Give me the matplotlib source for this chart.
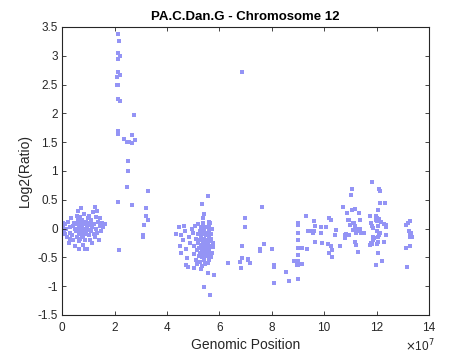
import matplotlib.pyplot as plt
import numpy as np

plt.rcParams['font.family'] = ['Liberation Sans', 'DejaVu Sans']

# genomic position in Mb, log2 ratio
pos_mb = [
    # cluster near 0-17 Mb
    0.5, 0.8, 1.0, 1.2, 1.5, 2.0, 2.2, 2.5, 3.0, 3.2, 3.5, 3.8, 4.0, 4.2, 4.5, 4.8,
    5.0, 5.2, 5.5, 5.6, 5.8, 6.0, 6.1, 6.2, 6.3, 6.4, 6.5, 6.6, 6.7, 6.8, 6.9, 7.0,
    7.1, 7.2, 7.3, 7.4, 7.5, 7.6, 7.7, 7.8, 7.9, 8.0, 8.1, 8.3, 8.5, 8.6, 8.8, 9.0,
    9.2, 9.4, 9.5, 9.7, 9.8, 10.0, 10.2, 10.4, 10.6, 10.8, 11.0, 11.2, 11.4, 11.6,
    11.8, 12.0, 12.2, 12.5, 12.8, 13.0, 13.2, 13.5, 13.8, 14.0, 14.3, 14.6, 15.0,
    15.3, 15.8, 16.2, 6.6, 8.9, 0.2, 0.3, 3.0, 12.6,
    # amplified region ~21-33 Mb
    21.4, 21.7, 21.2, 22.1, 21.2, 21.2, 22.1, 20.8, 21.0, 21.4, 21.4, 22.1, 27.5,
    21.3, 21.3, 23.8, 24.7, 25.6, 26.8, 27.9, 26.6, 25.1, 25.1, 24.8, 32.6, 21.3,
    26.5, 31.9, 31.9, 32.6, 31.2, 31.0, 31.0, 21.6,
    # cluster ~43-58 Mb
    43.6, 44.8, 46.5, 47.0, 44.9, 45.3, 47.3, 47.8, 48.2, 47.2, 48.5, 48.9, 46.0, 45.5,
    49.5, 50.0, 50.2, 50.5, 50.8, 51.0, 51.2, 51.4, 51.5, 51.7, 51.9, 52.0, 52.2, 52.3,
    52.5, 52.6, 52.7, 52.8, 52.9, 53.0, 53.1, 53.2, 53.3, 53.4, 53.5, 53.6, 53.7, 53.8,
    53.9, 54.0, 54.1, 54.2, 54.3, 54.4, 54.5, 54.6, 54.7, 54.8, 55.0, 55.1, 55.2, 55.3,
    55.4, 55.5, 55.6,
    56.2, 56.2, 56.2, 56.2, 56.2, 56.2, 56.2, 56.2, 56.2, 56.2, 56.2, 56.2, 56.2,
    57.0, 57.5, 57.6, 57.2, 56.8, 57.8, 55.8, 54.3, 56.5, 55.8, 53.3, 54.3, 53.7, 52.9,
    50.5, 56.6, 57.1, 56.9,
    # sparse 60-92 Mb
    63.2, 67.8, 68.8, 68.2, 71.1, 71.8, 68.8, 69.8, 69.8, 68.8, 76.2, 77.2, 75.6, 75.6,
    80.0, 81.0, 81.0, 81.0, 85.6, 86.4, 90.0, 90.0, 90.0, 90.0, 90.0, 90.0, 90.0, 90.0,
    90.0, 91.5, 91.5, 88.4, 89.6, 71.1,
    # 93-116 Mb
    93.0, 96.2, 96.6, 94.0, 95.3, 95.7, 96.2, 98.9, 100.8, 98.9, 102.0, 102.7, 104.6,
    104.2, 107.1, 108.7, 109.0, 109.6, 110.6, 111.8, 110.8, 110.2, 113.2, 113.7, 110.9,
    111.5, 109.9, 111.8, 112.5, 113.5, 113.1, 110.9, 112.2, 108.5, 109.4, 107.9, 114.2,
    115.1, 107.8, 111.8, 112.2, 106.2, 113.1, 101.6, 102.5, 102.9, 102.0, 102.9, 96.6,
    99.1, 93.6,
    # ~117-124 Mb
    118.2, 121.0, 121.2, 121.5, 123.4, 120.6, 117.6, 119.8, 120.3, 120.8, 119.6, 120.1,
    120.9, 121.6, 122.9, 123.6, 123.7, 117.7, 118.3, 118.6, 120.4, 120.3, 118.6, 118.6,
    119.0, 117.8, 118.3, 117.4, 120.4, 120.8, 121.2, 120.2, 120.6, 122.7, 123.7, 120.4,
    122.1, 119.6,
    # ~131-134 Mb
    131.3, 131.9, 132.6, 132.2, 132.8, 133.4, 132.8, 133.2, 131.3, 132.8, 131.6,
]

log2_ratio = [
    0.05, -0.05, 0.08, -0.10, 0.00, -0.15, 0.12, -0.25, 0.02, -0.08, 0.18, -0.12, 0.05,
    -0.20, 0.10, -0.30, 0.00, -0.05, 0.22, -0.15, 0.08, -0.02, 0.30, 0.15, -0.10, 0.05,
    -0.22, 0.12, 0.00, -0.05, 0.20, -0.18, 0.10, 0.02, -0.08, 0.35, 0.15, -0.12, 0.05,
    -0.28, 0.00, 0.10, -0.15, 0.25, -0.05, 0.08, -0.20, 0.12, -0.10, 0.02, -0.35, 0.18,
    -0.02, 0.06, -0.12, 0.22, -0.20, 0.10, -0.05, 0.15, -0.25, 0.02, 0.28, -0.10, 0.08,
    -0.15, 0.20, 0.00, 0.30, -0.08, 0.12, -0.20, 0.05, 0.18, -0.05, 0.10, 0.02, 0.08,
    -0.35, -0.36, 0.10, -0.02, -0.18, 0.38,
    3.38, 3.26, 3.04, 3.00, 2.95, 2.71, 2.67, 2.63, 2.50, 2.49, 2.25, 2.22, 1.98,
    1.69, 1.64, 1.55, 1.50, 1.50, 1.62, 1.54, 1.49, 1.17, 1.00, 0.72, 0.66, 0.46,
    0.41, 0.36, 0.22, 0.15, 0.06, -0.11, -0.15, -0.37,
    -0.09, 0.03, 0.05, -0.05, -0.31, -0.43, -0.63, -0.52, -0.66, -0.35, -0.15, -0.25,
    -0.20, -0.12,
    0.00, -0.08, -0.30, -0.45, 0.05, -0.18, -0.55, -0.38, -0.62, -0.10, -0.25, 0.08,
    -0.48, -0.33, -0.05, -0.20, -0.58, -0.42, 0.02, -0.28, -0.15, -0.65, -0.36, -0.50,
    -0.10, -0.24, 0.10, -0.40, -0.30, -0.55, -0.18, -0.45, -0.05, -0.35, -0.62, -0.25,
    0.03, -0.12, -0.48, -0.30, -0.20, -0.40, -0.08, -0.60, -0.28,
    0.12, 0.08, 0.04, -0.01, -0.06, -0.12, -0.17, -0.22, -0.30, -0.35, -0.42, -0.47,
    -0.55,
    -0.18, -0.25, -0.32, -0.42, -0.50, -0.80, -0.78, -1.02, -1.16, 0.57, 0.42, 0.25,
    0.18, -0.70, -0.68, 0.10, 0.00, -0.10,
    -0.60, -0.59, -0.52, -0.69, -0.55, -0.60, -0.30, 0.18, 0.03, 2.71, 0.37, -0.27,
    -0.36, -0.39, -0.35, -0.64, -0.67, -0.95, -0.75, -0.92, 0.09, 0.06, -0.08, -0.20,
    -0.34, -0.46, -0.57, -0.63, -0.88, -0.34, -0.61, -0.57, -0.63, -0.53,
    0.22, 0.13, 0.05, -0.04, -0.04, -0.07, -0.04, 0.02, 0.02, -0.08, 0.18, 0.15, -0.02,
    -0.11, 0.38, 0.27, 0.15, 0.15, 0.32, 0.34, 0.68, 0.58, 0.27, 0.15, 0.09, 0.09, 0.06,
    0.05, -0.01, -0.01, -0.04, -0.02, -0.07, -0.09, -0.11, -0.11, -0.07, -0.07, -0.17,
    -0.23, -0.28, -0.31, -0.41, -0.27, -0.31, -0.37, -0.43, -0.50, -0.23, -0.25, -0.36,
    0.80, 0.68, 0.66, 0.44, 0.44, 0.32, 0.22, 0.22, 0.19, 0.16, 0.14, 0.13, 0.14, 0.12,
    0.07, 0.06, 0.02, 0.09, 0.05, 0.01, 0.05, -0.05, -0.15, -0.20, -0.16, -0.25, -0.27,
    -0.28, -0.15, -0.12, -0.07, -0.27, -0.23, -0.23, -0.12, -0.43, -0.57, -0.64,
    0.06, 0.10, 0.13, -0.05, -0.08, -0.14, -0.15, -0.07, -0.34, -0.31, -0.66,
]

x = np.array(pos_mb) * 1e6
y = np.array(log2_ratio)

fig = plt.figure(figsize=(4.74, 3.55), dpi=100)
ax = fig.add_axes([0.131, 0.113, 0.774, 0.811])

ax.scatter(x, y, s=5, marker='s', color='#9494f5', linewidths=0)

ax.set_xlim(0, 14e7)
ax.set_ylim(-1.5, 3.5)
xt = np.arange(0, 15, 2)
ax.set_xticks(xt * 1e7)
ax.set_xticklabels([str(v) for v in xt])
yt = np.arange(-1.5, 3.51, 0.5)
ax.set_yticks(yt)
ax.set_yticklabels(['%g' % v for v in yt])

dark = '#262626'
for s in ax.spines.values():
    s.set_color(dark)
    s.set_linewidth(0.8)
ax.tick_params(axis='both', which='both', direction='in', top=True, right=True,
               length=3, width=0.6, colors=dark, labelsize=8.5)
ax.tick_params(axis='x', pad=5)
ax.tick_params(axis='y', pad=3)

ax.set_title('PA.C.Dan.G - Chromosome 12', fontsize=9.5, fontweight='bold', pad=5)
ax.set_xlabel('Genomic Position', fontsize=10, color=dark, labelpad=3)
ax.set_ylabel('Log2(Ratio)', fontsize=10, color=dark, labelpad=4)
ax.text(0.975, -0.08, r'$\times$10$^{7}$', transform=ax.transAxes, fontsize=8.5,
        color=dark, ha='center', va='top')

fig.savefig('out.png', dpi=100)
plt.close()
